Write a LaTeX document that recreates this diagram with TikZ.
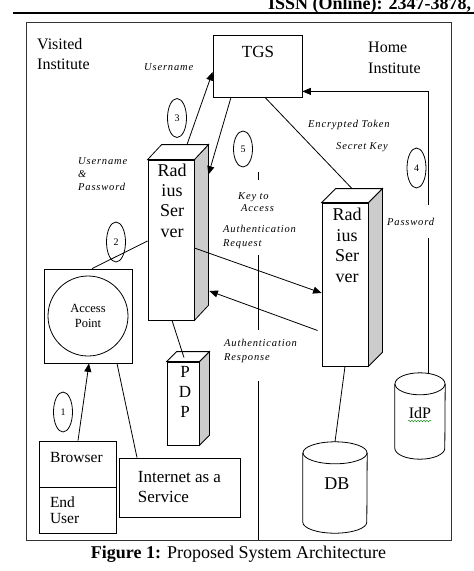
\documentclass[tikz,border=0pt]{standalone}
\usepackage{fontspec}
\setmainfont{Liberation Serif}
\newfontfamily\lblfont[LetterSpace=8]{Liberation Serif}
\usetikzlibrary{arrows.meta,shapes.geometric,decorations.pathmorphing}

\tikzset{
  box/.style={draw,line width=0.8pt,inner sep=0pt},
  side/.style={draw,line width=0.8pt,fill=gray!40},
  topface/.style={draw,line width=0.8pt,fill=white},
  num/.style={draw,ellipse,line width=0.8pt,inner sep=0pt,minimum width=19pt,font=\fontsize{10}{10}\selectfont},
  lbl/.style={font=\lblfont\itshape\fontsize{10.5}{13}\selectfont,inner sep=0pt,align=left},
  arr/.style={line width=0.8pt,-{Triangle[length=8.5pt,width=7pt]}},
  con/.style={line width=0.8pt},
}
% top and side faces of a slab, node #1, depth (#2,#3)
\newcommand{\slabfaces}[3]{%
  \draw[side] (#1.north east) -- ++(#2,-#3) -- ([shift={(#2,-#3)}]#1.south east) -- (#1.south east) -- cycle;
  \draw[topface] (#1.north west) -- ++(#2,-#3) -- ([shift={(#2,-#3)}]#1.north east) -- (#1.north east) -- cycle;
}

\begin{document}
\begin{tikzpicture}[x=1pt,y=-1pt]
\useasboundingbox (0,0) rectangle (474,571);
\clip (0,0) rectangle (474,571);

% header and frame
\node[font=\bfseries\fontsize{18}{18}\selectfont,anchor=base west,inner sep=0pt] (issn) at (268,9) {ISSN (Online): 2347-3878,};
\draw[line width=1.2pt] (13,13) -- (474,13);
\draw[line width=1pt,black!80] (26,22) rectangle (451,540);

\node[font=\fontsize{16}{20}\selectfont,anchor=north west,inner sep=0pt,align=left] (visited) at (37,38) {Visited\\Institute};
\node[font=\fontsize{16}{21}\selectfont,anchor=north west,inner sep=0pt,align=left] (home) at (368,42) {Home\\Institute};

% divider
\draw[con] (258,172) -- (258,180);
\draw[con] (258,255) -- (258,330);
\draw[con] (258,381) -- (258,540);

% TGS
\node[box,minimum width=89pt,minimum height=62pt] (tgs) at (257.5,66) {};
\node[font=\fontsize{17}{17}\selectfont,anchor=base,inner sep=0pt] (tgstxt) at (258,57) {TGS};

% radius servers and PDP
\node[box,fill=white,minimum width=46pt,minimum height=160pt] (lrad) at (171,240) {};
\slabfaces{lrad}{14}{15}
\node[font=\fontsize{18}{20.3}\selectfont,anchor=north,inner sep=0pt,align=center] (lradtxt) at (172,163.7) {Rad\\ius\\Ser\\ver};

\node[box,fill=white,minimum width=46pt,minimum height=163pt] (rrad) at (345,284.5) {};
\slabfaces{rrad}{14}{14}
\node[font=\fontsize{18}{20.7}\selectfont,anchor=north,inner sep=0pt,align=center] (rradtxt) at (347,207.7) {Rad\\ius\\Ser\\ver};

\node[box,fill=white,minimum width=32pt,minimum height=83pt] (pdp) at (183,403.5) {};
\slabfaces{pdp}{10}{10}
\node[font=\fontsize{17}{20}\selectfont,anchor=north,inner sep=0pt,align=center] (pdptxt) at (185,366.5) {P\\D\\P};

% access point, browser, end user, service
\node[box,minimum width=88pt,minimum height=94pt] (ap) at (88,316) {};
\node[draw,circle,line width=0.8pt,minimum size=80pt,inner sep=0pt,align=center,font=\fontsize{12.5}{15}\selectfont] (apc) at (88,316) {Access\\Point};

\node[box,minimum width=77pt,minimum height=46pt] (browser) at (77.5,464) {};
\node[font=\fontsize{15.5}{16}\selectfont,anchor=base west,inner sep=0pt] (browsertxt) at (50,462) {Browser};
\node[box,minimum height=46pt,text width=55pt,inner xsep=11pt,align=left,font=\fontsize{15.5}{16}\selectfont] (enduser) at (77.5,510) {End\\User};
\node[box,minimum width=121pt,minimum height=59pt,align=left,font=\fontsize{17}{20}\selectfont] (iaas) at (179.5,487.5) {Internet as a\\Service};

% databases
\node[minimum width=64pt,minimum height=91pt,inner sep=0pt] (db) at (335,487.5) {};
\draw[con] ([yshift=-11pt]db.north) ellipse[x radius=32,y radius=11];
\draw[con] ([yshift=-11pt]db.north west) -- ([yshift=11pt]db.south west) arc[start angle=180,end angle=0,x radius=32,y radius=11] -- ([yshift=-11pt]db.north east);
\node[font=\fontsize{18}{18}\selectfont,anchor=base,inner sep=0pt] (dbtxt) at (337,489) {DB};

\node[minimum width=50pt,minimum height=86pt,inner sep=0pt] (idp) at (420,416) {};
\draw[con] ([yshift=-11pt]idp.north) ellipse[x radius=25,y radius=11];
\draw[con] ([yshift=-11pt]idp.north west) -- ([yshift=11pt]idp.south west) arc[start angle=180,end angle=0,x radius=25,y radius=11] -- ([yshift=-11pt]idp.north east);
\node[font=\fontsize{16}{16}\selectfont,anchor=base,inner sep=0pt] (idptxt) at (420,418) {IdP};
\draw[green!50!black,decorate,decoration={snake,amplitude=0.8pt,segment length=3pt}] (408,421) -- (432,421);

% step numbers
\node[num,minimum height=40pt] (c1) at (63,412) {1};
\node[num,minimum height=40pt] (c2) at (116,242) {2};
\node[num,minimum height=39pt] (c3) at (177,118) {3};
\node[num,minimum height=40pt] (c4) at (416.5,168) {4};
\node[num,minimum height=36pt] (c5) at (243,149) {5};

% connectors
\coordinate (lradtop) at ([shift={(16,-15)}]lrad.north);
\coordinate (rradtop) at ([shift={(7,-14)}]rrad.north);
\coordinate (pw1) at (428,238);
\coordinate (pw2) at (428,205);
\draw[arr] (lradtop) -- ([yshift=-6pt]tgs.west);
\draw[arr] ([xshift=-26.5pt]tgs.south) -- ([shift={(14pt,-15pt)}]lrad.north east);
\draw[con] ([xshift=7.5pt]tgs.south) -- (rradtop);
\draw[arr] ([yshift=-8pt]lrad.east) -- ([yshift=-8.5pt]rrad.west);
\draw[arr] ([xshift=-4pt,yshift=-46pt]rrad.west) -- ([xshift=15pt,yshift=-51pt]lrad.east);
\draw[con] ([yshift=-1pt]lrad.west) -- ([xshift=4pt]ap.north);
\draw[con] ([xshift=1pt]lrad.south) -- ([shift={(1pt,4pt)}]pdp.north);
\draw[arr] ([xshift=0.5pt]browser.north) -- ([xshift=1pt]ap.south);
\draw[con] ([xshift=29pt]ap.south) -- ([xshift=-42.5pt]iaas.north);
\draw[con] (rrad.south) -- (db.north);
\draw[con] ([xshift=8pt]idp.north) -- (pw1);
\draw[arr] (pw2) |- ([yshift=6pt]tgs.south east);

% labels
\node[lbl,anchor=base west] (uname) at (144,70) {Username};
\node[lbl,anchor=north west] (unpw) at (78,157.5) {Username\\\&\\Password};
\node[lbl,anchor=north west,font=\lblfont\itshape\fontsize{10.5}{12}\selectfont] (key) at (238,192.5) {Key to\\\hspace*{3pt}Access};
\node[lbl,anchor=north west,font=\lblfont\itshape\fontsize{10.5}{14}\selectfont] (areq) at (223,225.5) {Authentication\\Request};
\node[lbl,anchor=north west,font=\lblfont\itshape\fontsize{10.5}{14}\selectfont] (aresp) at (224,339.5) {Authentication\\Response};
\node[lbl,anchor=base west] (token) at (308,127) {Encrypted Token};
\node[lbl,anchor=base west] (secret) at (336,149) {Secret Key};
\node[lbl,anchor=base west] (pword) at (387,225) {Password};

% caption
\node[font=\fontsize{18}{18}\selectfont,anchor=base,inner sep=0pt] (caption) at (238.5,558) {\textbf{Figure 1:} Proposed System Architecture};
\end{tikzpicture}
\end{document}
